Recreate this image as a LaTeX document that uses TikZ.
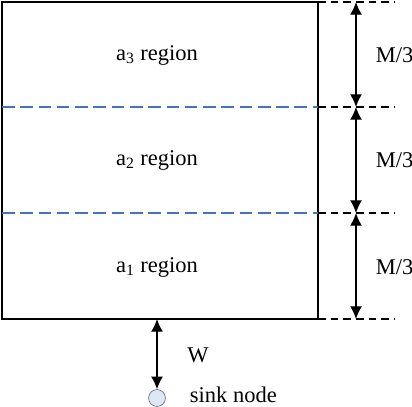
\documentclass[tikz,border=0pt]{standalone}
\usepackage{fontspec}
\setmainfont{Liberation Serif}
\usetikzlibrary{arrows.meta}
\definecolor{lineblue}{RGB}{68,114,196}
\definecolor{sinkfill}{RGB}{222,232,245}
\definecolor{sinkdraw}{RGB}{80,90,110}
\begin{document}
\begin{tikzpicture}[x=0.025cm,y=-0.025cm,font=\fontsize{16}{19}\selectfont,
  dimarrow/.style={{Latex[length=9pt,width=8.5pt]}-{Latex[length=9pt,width=8.5pt]},line width=0.9pt},
  guide/.style={dash pattern=on 5.5pt off 3.5pt,line width=0.8pt},
  splitline/.style={lineblue,dash pattern=on 9pt off 4pt,line width=1.4pt}]
\useasboundingbox (0,0) rectangle (412,406);
% area and its levels
\draw[line width=0.8pt] (2,2) rectangle (318,319);
\foreach \i/\y in {0/2,1/107,2/213,3/319}{
  \coordinate (l\i) at (2,\y);
  \coordinate (r\i) at (318,\y);
  \coordinate (d\i) at (356,\y);
  \coordinate (e\i) at (395,\y);
  \draw[guide] (r\i) -- (e\i);
}
\draw[splitline] (l1) -- (r1);
\draw[splitline] (l2) -- (r2);
\node (a3) at (157,55) {a\textsubscript{3} region};
\node (a2) at (157,160) {a\textsubscript{2} region};
\node (a1) at (157,267) {a\textsubscript{1} region};
% heights
\draw[dimarrow] (d0) -- (d1);
\draw[dimarrow] (d1) -- (d2);
\draw[dimarrow] (d2) -- (d3);
\node[anchor=west] (m3) at (371,55) {M/3};
\node[anchor=west] (m2) at (371,160) {M/3};
\node[anchor=west] (m1) at (371,267) {M/3};
% sink below the area
\coordinate (base) at (157,319);
\node[circle,draw=sinkdraw,fill=sinkfill,inner sep=0pt,minimum size=12pt] (sink) at (157,398) {};
\draw[dimarrow] (base) -- (sink.north);
\node (w) at (198,355) {W};
\node[anchor=west] (sinklab) at (185,395) {sink node};
\end{tikzpicture}
\end{document}
